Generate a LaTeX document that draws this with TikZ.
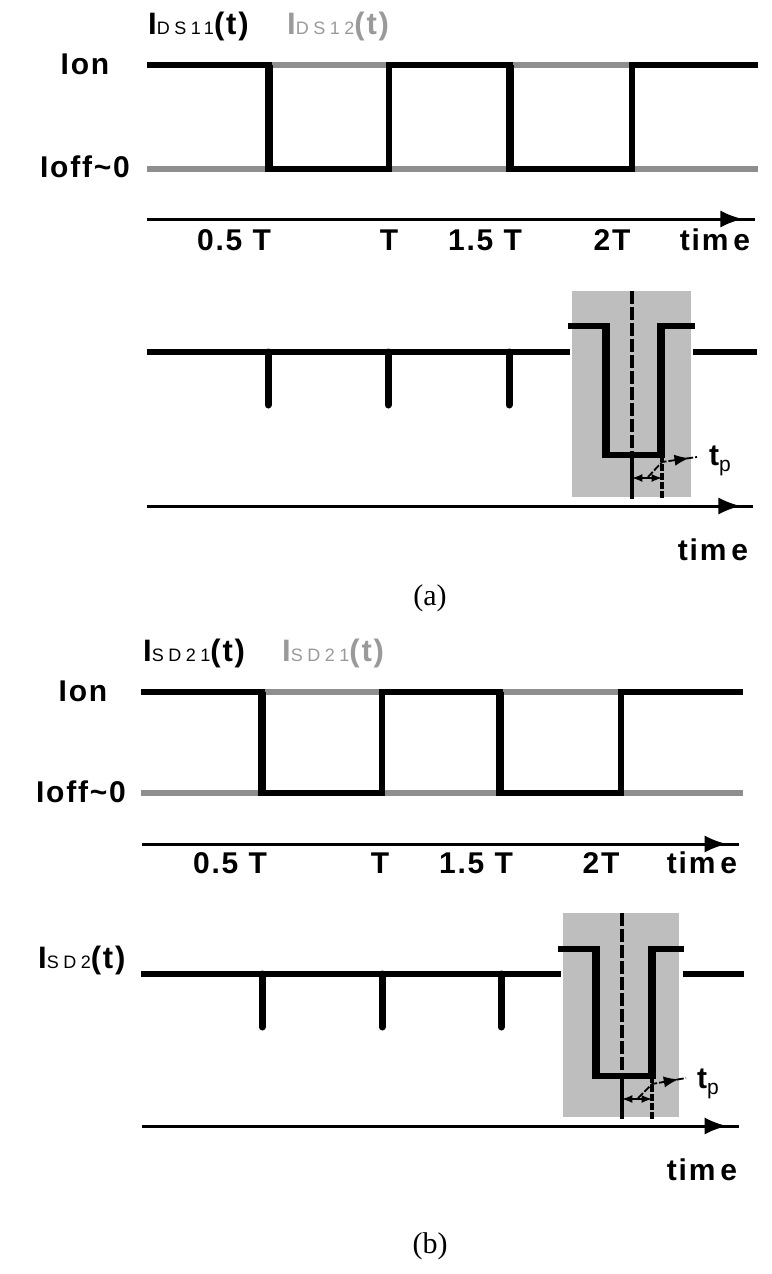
\documentclass[tikz,border=0pt]{standalone}
\usepackage{fontspec}
\setmainfont{Liberation Serif}
\newfontfamily\lblfont[LetterSpace=6]{Liberation Sans}
\usetikzlibrary{arrows, positioning, calc, decorations.markings}
\definecolor{wave_gray}{HTML}{8E8E8E}
\definecolor{label_gray}{HTML}{9A9A9A}
\definecolor{window_gray}{HTML}{BEBEBE}
\tikzset{
  axislabel/.style={inner sep=0,font=\lblfont\bfseries\fontsize{30}{30}\selectfont},
  ticklabel/.style={axislabel},
  curlabel/.style={inner sep=0,anchor=west,font=\lblfont\bfseries\fontsize{31}{31}\selectfont},
  caption/.style={inner sep=0,font=\fontsize{30}{30}\selectfont},
  wave/.style={line width=6pt,black,line join=miter},
  wavegray/.style={line width=5.5pt,wave_gray},
  edgethick/.style={line width=8pt,black},
  baseline/.style={line width=6pt,black},
  tooth/.style={line width=7pt,black,line cap=round},
  window/.style={fill=window_gray,draw=none},
  timeaxis/.style={line width=3pt,black,postaction={decorate},
    decoration={markings,mark=at position 0.98 with {\arrow[scale=1.9]{latex}}}},
  center/.style={line width=4pt,black},
  dashcenter/.style={center,dash pattern=on 13pt off 3pt},
  width/.style={line width=2.5pt,latex-latex},
  pointer/.style={line width=1.8pt,dash pattern=on 7pt off 2pt,postaction={decorate},
    decoration={markings,mark=at position 0.86 with {\arrow[scale=1.8]{latex}}}},
}
\newcommand{\cursub}[1]{{\mdseries\fontsize{18}{18}\selectfont\addfontfeature{LetterSpace=25}#1}}
\newcommand{\pulsesub}[1]{\raisebox{-6pt}{\mdseries\fontsize{21}{21}\selectfont #1}}
\newcommand{\timelabel}{tim\kern5pt e}
\begin{document}
\begin{tikzpicture}[x=1pt,y=-1pt]
	\useasboundingbox (0,0) rectangle (771,1274);
	% part (a), square waves
	\node[curlabel] (a_i1) at (148,26) {I\cursub{DS11}(t)};
	\node[curlabel,text=label_gray] (a_i2) at (287,26) {I\cursub{DS12}(t)};
	\node[axislabel] (a_on) at (85,64) {Ion};
	\node[axislabel] (a_off) at (85,167) {Ioff\char`~0};
	\draw[wavegray] (147,65) -- (758,65);
	\draw[wavegray] (147,169) -- (758,169);
	\draw[wave] (147,65) -- (269,65) -- (269,169) -- (389,169) -- (389,65) -- (510,65)
		-- (510,169) -- (632,169) -- (632,65) -- (758,65);
	\draw[edgethick] (269,65) -- (269,172);
	\draw[edgethick] (510,65) -- (510,172);
	\coordinate (a_t0) at (147,219);
	\coordinate (a_t1) at (755,219);
	\draw[timeaxis] (a_t0) -- (a_t1);
	\node[ticklabel] (a_l1) at (234,240) {0.5 T};
	\node[ticklabel] (a_l2) at (389,240) {T};
	\node[ticklabel] (a_l3) at (485,240) {1.5 T};
	\node[ticklabel] (a_l4) at (612,240) {2T};
	\node[ticklabel] (a_l5) at (715,240) {\timelabel};
	% part (a), pulses
	\draw[window] (572,291) rectangle (691,497);
	\draw[baseline] (147,352) -- (570,352);
	\draw[baseline] (693,352) -- (757,352);
	\draw[tooth] (268,352) -- (268,405);
	\draw[tooth] (388,352) -- (388,405);
	\draw[tooth] (509,352) -- (509,405);
	\draw[wave] (568,326) -- (606,326) -- (606,455) -- (661,455) -- (661,326) -- (695,326);
	\draw[edgethick] (606,323) -- (606,458);
	\draw[edgethick] (661,323) -- (661,458);
	\coordinate (a_c0) at (632,291);
	\coordinate (a_c1) at (632,455);
	\coordinate (a_c2) at (632,499);
	\coordinate (a_s0) at (662,455);
	\coordinate (a_s1) at (662,499);
	\draw[dashcenter] (a_c0) -- (a_c1);
	\draw[center] (a_c1) -- (a_c2);
	\draw[center,dash pattern=on 7pt off 2pt] (a_s0) -- (a_s1);
	\draw[width] (a_c2 |- 0,478) -- (a_s1 |- 0,478);
	\coordinate (a_p0) at (648,477);
	\coordinate (a_p1) at (662,462);
	\coordinate (a_p2) at (697,457);
	\draw[pointer] (a_p0) -- (a_p1) -- (a_p2);
	\node[axislabel] (a_tp) at (720,461) {t\pulsesub{p}};
	\coordinate (a_b0) at (147,506);
	\coordinate (a_b1) at (753,506);
	\draw[timeaxis] (a_b0) -- (a_b1);
	\node[ticklabel] (a_time) at (713,550) {\timelabel};
	\node[caption] (a_cap) at (430,598) {(a)};
	% part (b), square waves
	\node[curlabel] (b_i1) at (143,653) {I\cursub{SD21}(t)};
	\node[curlabel,text=label_gray] (b_i2) at (282,653) {I\cursub{SD21}(t)};
	\node[axislabel] (b_on) at (83,691) {Ion};
	\node[axislabel] (b_off) at (81,792) {Ioff\char`~0};
	\draw[wavegray] (141,692) -- (743,692);
	\draw[wavegray] (141,793) -- (743,793);
	\draw[wave] (141,692) -- (262,692) -- (262,793) -- (382,793) -- (382,692) -- (500,692)
		-- (500,793) -- (621,793) -- (621,692) -- (743,692);
	\draw[edgethick] (262,692) -- (262,796);
	\draw[edgethick] (500,692) -- (500,796);
	\coordinate (b_t0) at (142,844);
	\coordinate (b_t1) at (739,844);
	\draw[timeaxis] (b_t0) -- (b_t1);
	\node[ticklabel] (b_l1) at (230,863) {0.5 T};
	\node[ticklabel] (b_l2) at (380,863) {T};
	\node[ticklabel] (b_l3) at (476,863) {1.5 T};
	\node[ticklabel] (b_l4) at (601,863) {2T};
	\node[ticklabel] (b_l5) at (702,863) {\timelabel};
	% part (b), pulses
	\node[curlabel] (b_i3) at (38,960) {I\cursub{SD2}(t)};
	\draw[window] (563,913) rectangle (679,1117);
	\draw[baseline] (141,974) -- (561,974);
	\draw[baseline] (683,974) -- (744,974);
	\draw[tooth] (262,974) -- (262,1027);
	\draw[tooth] (382,974) -- (382,1027);
	\draw[tooth] (501,974) -- (501,1027);
	\draw[wave] (558,949) -- (596,949) -- (596,1076) -- (652,1076) -- (652,949) -- (684,949);
	\draw[edgethick] (596,946) -- (596,1079);
	\draw[edgethick] (652,946) -- (652,1079);
	\coordinate (b_c0) at (622,913);
	\coordinate (b_c1) at (622,1076);
	\coordinate (b_c2) at (622,1119);
	\coordinate (b_s0) at (652,1076);
	\coordinate (b_s1) at (652,1119);
	\draw[dashcenter] (b_c0) -- (b_c1);
	\draw[center] (b_c1) -- (b_c2);
	\draw[center,dash pattern=on 7pt off 2pt] (b_s0) -- (b_s1);
	\draw[width] (b_c2 |- 0,1099) -- (b_s1 |- 0,1099);
	\coordinate (b_p0) at (638,1098);
	\coordinate (b_p1) at (652,1084);
	\coordinate (b_p2) at (686,1078);
	\draw[pointer] (b_p0) -- (b_p1) -- (b_p2);
	\node[axislabel] (b_tp) at (708,1084) {t\pulsesub{p}};
	\coordinate (b_b0) at (142,1126);
	\coordinate (b_b1) at (739,1126);
	\draw[timeaxis] (b_b0) -- (b_b1);
	\node[ticklabel] (b_time) at (702,1170) {\timelabel};
	\node[caption] (b_cap) at (430,1246) {(b)};
\end{tikzpicture}
\end{document}
